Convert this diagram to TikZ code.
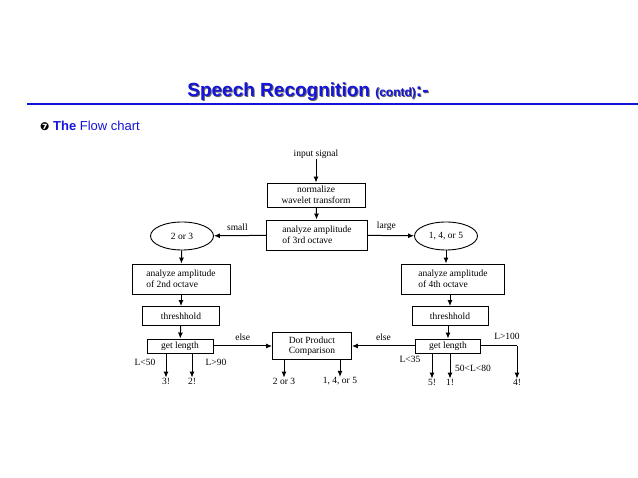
\documentclass[tikz,border=0pt]{standalone}
\usepackage{fontspec}
\setmainfont{Liberation Serif}
\newfontfamily\hsans{Liberation Sans}
\newfontfamily\dv{DejaVu Sans}
\usetikzlibrary{arrows.meta,shapes.geometric}
\definecolor{tblue}{RGB}{20,20,220}
\begin{document}
\begin{tikzpicture}[x=1pt,y=-1pt,
  box/.style={draw,line width=0.9pt,align=left,font=\fontsize{9.5}{10.5}\selectfont,inner sep=0pt},
  ell/.style={draw,ellipse,line width=0.9pt,minimum width=63pt,minimum height=28pt,font=\fontsize{9.5}{10.5}\selectfont,inner sep=0pt},
  lbl/.style={font=\fontsize{9.5}{10.5}\selectfont,inner sep=0pt},
  arr/.style={-{Latex[length=6pt,width=5pt]},line width=1pt}]
\useasboundingbox (0,0) rectangle (638,478);
\fill[white] (0,0) rectangle (638,478);
% header
\node[font=\hsans\bfseries\fontsize{19}{20}\selectfont,text=black!60] at (309,93) {Speech Recognition {\fontsize{12}{13}\selectfont(contd)}:-};
\node[font=\hsans\bfseries\fontsize{19}{20}\selectfont,text=tblue] (title) at (308,92) {Speech Recognition {\fontsize{12}{13}\selectfont(contd)}:-};
\draw[tblue,line width=1.5pt] (27,104) -- (638,104);
\node[anchor=west,font=\hsans\bfseries\fontsize{13}{14}\selectfont,text=tblue,inner sep=0pt] (sub) at (40,126) {{\dv\color{black}\fontsize{11}{12}\selectfont ❼} The {\mdseries Flow chart}};
% nodes
\node[lbl] (in) at (316,154) {input signal};
\node[box,minimum width=98pt,minimum height=24pt,align=center] (norm) at (316,195) {normalize\\wavelet transform};
\node[box,minimum width=101pt,minimum height=30pt] (a3) at (317,235) {analyze amplitude\\of 3rd octave};
\node[ell] (e23) at (182,236) {2 or 3};
\node[ell] (e145) at (446,236) {1, 4, or 5};
\node[box,minimum width=98pt,minimum height=30pt] (a2) at (181,279) {analyze amplitude\\of 2nd octave};
\node[box,minimum width=103pt,minimum height=30pt] (a4) at (453,279) {analyze amplitude\\of 4th octave};
\node[box,minimum width=77pt,minimum height=19pt,align=center] (t1) at (181,316) {threshhold};
\node[box,minimum width=76pt,minimum height=19pt,align=center] (t2) at (450,316) {threshhold};
\node[box,minimum width=66pt,minimum height=14pt,align=center] (g1) at (180,346) {get length};
\node[box,minimum width=79pt,minimum height=27pt] (dp) at (312,346) {Dot Product\\Comparison};
\node[box,minimum width=65pt,minimum height=14pt,align=center] (g2) at (448,346) {get length};
% outputs
\node[lbl] (o1) at (166,381) {3!};
\node[lbl] (o2) at (192,381) {2!};
\node[lbl] (o3) at (284,381) {2 or 3};
\node[lbl] (o4) at (340,381) {1, 4, or 5};
\node[lbl] (o5) at (432,382) {5!};
\node[lbl] (o6) at (450,382) {1!};
\node[lbl] (o7) at (517,382) {4!};
\coordinate (c1) at (517,346);
% connectors
\draw[arr] (in) -- (norm);
\draw[arr] (norm) -- (a3);
\draw[arr] (a3) -- node[lbl,above=4pt,pos=0.55]{small} (e23);
\draw[arr] (a3) -- node[lbl,above=4pt,pos=0.4]{large} (e145);
\draw[arr] (e23) -- (a2);
\draw[arr] (e145.south) -- (e145.south|-a4.north);
\draw[arr] (a2) -- (t1);
\draw[arr] (a4.south-|t2) -- (t2);
\draw[arr] (t1) -- (g1);
\draw[arr] (t2.south-|g2) -- (g2);
\draw[arr] (g1) -- node[lbl,above=5pt]{else} (dp);
\draw[arr] (g2) -- node[lbl,above=5pt]{else} (dp);
\draw[arr] (g1.south-|o1) -- (o1.north);
\draw[arr] (g1.south-|o2) -- (o2.north);
\draw[arr] (dp.south-|o3) -- (o3.north);
\draw[arr] (dp.south-|o4) -- (o4.north);
\draw[arr] (g2.south-|o5) -- (o5.north);
\draw[arr] (g2.south-|o6) -- (o6.north);
\draw[line width=1pt] (g2) -- (c1);
\draw[arr] (c1) -- (o7.north);
% branch labels
\node[lbl] (l1) at (145,362) {L<50};
\node[lbl] (l2) at (216,362) {L>90};
\node[lbl] (l3) at (410,359) {L<35};
\node[lbl] (l4) at (473,368) {50<L<80};
\node[lbl] (l5) at (507,336) {L>100};
\end{tikzpicture}
\end{document}
